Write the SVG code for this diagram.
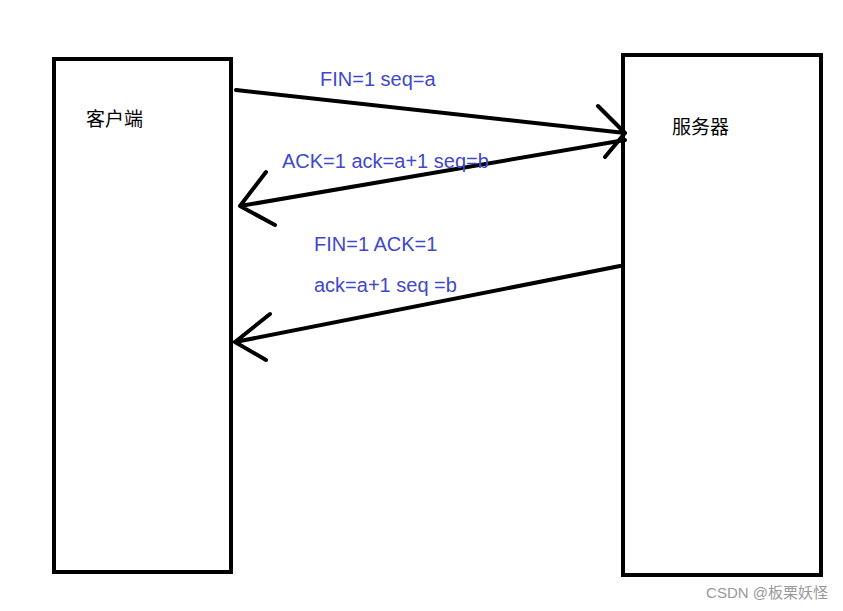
<svg xmlns="http://www.w3.org/2000/svg" width="843" height="611" viewBox="0 0 843 611">
<style>
.box{fill:none;stroke:#000;stroke-width:4}
.ln{fill:none;stroke:#000;stroke-width:4;stroke-linecap:round;stroke-linejoin:round}
.lb{font-family:"Liberation Sans","Noto Sans CJK SC",sans-serif;font-size:20px;fill:#3f48cc}
.nm{font-family:"Noto Sans CJK SC",sans-serif;font-size:19px;fill:#000}
</style>
<rect width="843" height="611" fill="#fff"/>
<g id="client"><rect class="box" x="54" y="59" width="177" height="513"/><text class="nm" x="86" y="126">客户端</text></g>
<g id="server"><rect class="box" x="623" y="55" width="198" height="520"/><text class="nm" x="672" y="134">服务器</text></g>
<g id="connectors">
<path class="ln" d="M236 90 L625 133 M598 106 L625 133 L605 157"/>
<path class="ln" d="M625 140 L240 206 M266 172 L240 206 L275 225"/>
<path class="ln" d="M620 266 L235 342 M270 314 L235 342 L266 360"/>
</g>
<g id="labels">
<text class="lb" x="320" y="86">FIN=1  seq=a</text>
<text class="lb" x="282" y="168">ACK=1 ack=a+1 seq=b</text>
<text class="lb" x="314" y="251">FIN=1 ACK=1</text>
<text class="lb" x="314" y="292">ack=a+1 seq =b</text>
</g>
<text x="828" y="598" text-anchor="end" style="font-family:'Liberation Sans','Noto Sans CJK SC',sans-serif;font-size:15px;fill:#999">CSDN @板栗妖怪</text>
</svg>
